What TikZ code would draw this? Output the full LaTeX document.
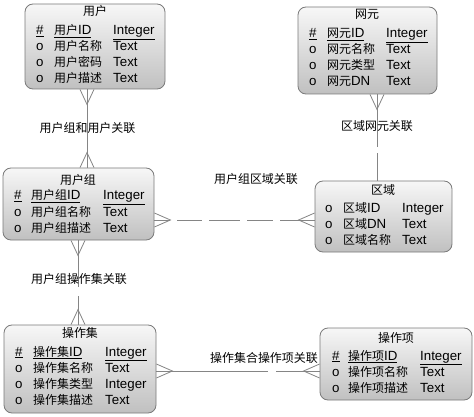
\documentclass[tikz,border=0pt]{standalone}
\usepackage{fontspec}
\setmainfont{Liberation Sans}
\newfontfamily\cjk[Scale=0.9]{Noto Sans CJK SC}
\newcommand\zh[1]{{\cjk #1}}
\usetikzlibrary{calc}
\definecolor{boxline}{HTML}{7A7A7A}
\definecolor{boxtop}{HTML}{F7F7F7}
\definecolor{boxbot}{HTML}{C0C0C0}
\definecolor{relc}{HTML}{858585}
\tikzset{
  entity/.style={draw=boxline, line width=0.8pt, rounded corners=8pt, top color=boxtop, bottom color=boxbot, inner sep=0pt},
  txt/.style={inner sep=0pt, anchor=west, text height=9pt, text depth=3pt, font=\fontsize{13.3}{15}\selectfont},
  ttl/.style={txt, anchor=center},
  lbl/.style={inner sep=0pt, text height=9pt, text depth=3pt, font=\fontsize{13.3}{15}\selectfont},
  rel/.style={draw=relc, line width=0.8pt},
}
% crow's feet: tip direction
\newcommand\crowdown[1]{\draw[rel] ([xshift=-7pt]#1) -- ([yshift=-15pt]#1) -- ([xshift=7pt]#1);}
\newcommand\crowup[1]{\draw[rel] ([xshift=-7pt]#1) -- ([yshift=15pt]#1) -- ([xshift=7pt]#1);}
\newcommand\crowright[1]{\draw[rel] ([yshift=-7pt]#1) -- ([xshift=16pt]#1) -- ([yshift=7pt]#1);}
\newcommand\crowleft[1]{\draw[rel] ([yshift=-7pt]#1) -- ([xshift=-16pt]#1) -- ([yshift=7pt]#1);}
% one attribute row: name prefix, y, x1, x2, x3, c1, c2, c3
\newcommand\attrrow[8]{%
  \node[txt] (#1-a) at (#3,#2) {#6};
  \node[txt] (#1-b) at (#4,#2) {#7};
  \node[txt] (#1-c) at (#5,#2) {#8};}
\begin{document}
\begin{tikzpicture}[x=1pt,y=-1pt]
\useasboundingbox (0,0) rectangle (474,417);
\fill[white] (0,0) rectangle (474,417);

% ---------- entities ----------
\node[entity, minimum width=140pt, minimum height=85pt] (yh)  at (95,46.5) {};
\node[entity, minimum width=139pt, minimum height=87pt] (wy)  at (367.5,50.5) {};
\node[entity, minimum width=151pt, minimum height=72pt] (yhz) at (78.5,204) {};
\node[entity, minimum width=137pt, minimum height=71pt] (qy)  at (383.5,216.5) {};
\node[entity, minimum width=152pt, minimum height=88pt] (czj) at (80,369) {};
\node[entity, minimum width=152pt, minimum height=72pt] (czx) at (396,364) {};

% ---------- 用户 ----------
\node[ttl] (yh-t) at (95,13) {\zh{用户}};
\attrrow{yh1}{32}{36}{54}{113}{\underline{\#}}{\underline{\zh{用户}ID}}{\underline{Integer}}
\attrrow{yh2}{48}{36}{54}{113}{o}{\zh{用户名称}}{Text}
\attrrow{yh3}{64}{36}{54}{113}{o}{\zh{用户密码}}{Text}
\attrrow{yh4}{80}{36}{54}{113}{o}{\zh{用户描述}}{Text}

% ---------- 网元 ----------
\node[ttl] (wy-t) at (367,16) {\zh{网元}};
\attrrow{wy1}{35}{309}{327}{386}{\underline{\#}}{\underline{\zh{网元}ID}}{\underline{Integer}}
\attrrow{wy2}{51}{309}{327}{386}{o}{\zh{网元名称}}{Text}
\attrrow{wy3}{67}{309}{327}{386}{o}{\zh{网元类型}}{Text}
\attrrow{wy4}{83}{309}{327}{386}{o}{\zh{网元}DN}{Text}

% ---------- 用户组 ----------
\node[ttl] (yhz-t) at (78,181) {\zh{用户组}};
\attrrow{yhz1}{197}{14}{31}{103}{\underline{\#}}{\underline{\zh{用户组}ID}}{\underline{Integer}}
\attrrow{yhz2}{213}{14}{31}{103}{o}{\zh{用户组名称}}{Text}
\attrrow{yhz3}{229}{14}{31}{103}{o}{\zh{用户组描述}}{Text}

% ---------- 区域 ----------
\node[ttl] (qy-t) at (383,191) {\zh{区域}};
\attrrow{qy1}{209}{325}{343}{402}{o}{\zh{区域}ID}{Integer}
\attrrow{qy2}{225}{325}{343}{402}{o}{\zh{区域}DN}{Text}
\attrrow{qy3}{241}{325}{343}{402}{o}{\zh{区域名称}}{Text}

% ---------- 操作集 ----------
\node[ttl] (czj-t) at (80,334) {\zh{操作集}};
\attrrow{czj1}{353}{15}{33}{105}{\underline{\#}}{\underline{\zh{操作集}ID}}{\underline{Integer}}
\attrrow{czj2}{369}{15}{33}{105}{o}{\zh{操作集名称}}{Text}
\attrrow{czj3}{385}{15}{33}{105}{o}{\zh{操作集类型}}{Integer}
\attrrow{czj4}{401}{15}{33}{105}{o}{\zh{操作集描述}}{Text}

% ---------- 操作项 ----------
\node[ttl] (czx-t) at (396,339) {\zh{操作项}};
\attrrow{czx1}{357}{332}{348}{420}{\underline{\#}}{\underline{\zh{操作项}ID}}{\underline{Integer}}
\attrrow{czx2}{373}{332}{348}{420}{o}{\zh{操作项名称}}{Text}
\attrrow{czx3}{389}{332}{348}{420}{o}{\zh{操作项描述}}{Text}

% ---------- connectors ----------
\coordinate (xa) at (87,0);
\coordinate (xb) at (377,0);
\coordinate (xc) at (78,0);
\coordinate (ya) at (0,220);
\coordinate (yb) at (0,371);

\coordinate (p1) at (yh.south -| xa);
\coordinate (p2) at (yhz.north -| xa);
\draw[rel] (p1) -- (p2);
\crowdown{p1}
\crowup{p2}

\coordinate (p3) at (wy.south -| xb);
\coordinate (p4) at (qy.north -| xb);
\draw[rel, dash pattern=on 53pt off 6pt on 60pt] (p3) -- (p4);
\crowdown{p3}

\coordinate (p5) at (yhz.east |- ya);
\coordinate (p6) at (qy.west |- ya);
\draw[rel, dash pattern=on 16pt off 7pt on 25pt off 7pt on 31pt off 7pt on 26pt off 7pt on 60pt] (p5) -- (p6);
\crowright{p5}
\crowleft{p6}

\coordinate (p7) at (yhz.south -| xc);
\coordinate (p8) at (czj.north -| xc);
\draw[rel, dash pattern=on 47pt off 9pt on 60pt] (p7) -- (p8);
\crowdown{p7}
\crowup{p8}

\coordinate (p9) at (czj.east |- yb);
\coordinate (p10) at (czx.west |- yb);
\draw[rel, dash pattern=on 112pt off 8pt on 60pt] (p9) -- (p10);
\crowright{p9}
\crowleft{p10}

% ---------- relation labels ----------
\node[lbl] (l1) at (87.5,130) {\zh{用户组和用户关联}};
\node[lbl] (l2) at (377,128) {\zh{区域网元关联}};
\node[lbl] (l3) at (256,180) {\zh{用户组区域关联}};
\node[lbl] (l4) at (79,280) {\zh{用户组操作集关联}};
\node[lbl] (l5) at (264,359) {\zh{操作集合操作项关联}};
\end{tikzpicture}
\end{document}
